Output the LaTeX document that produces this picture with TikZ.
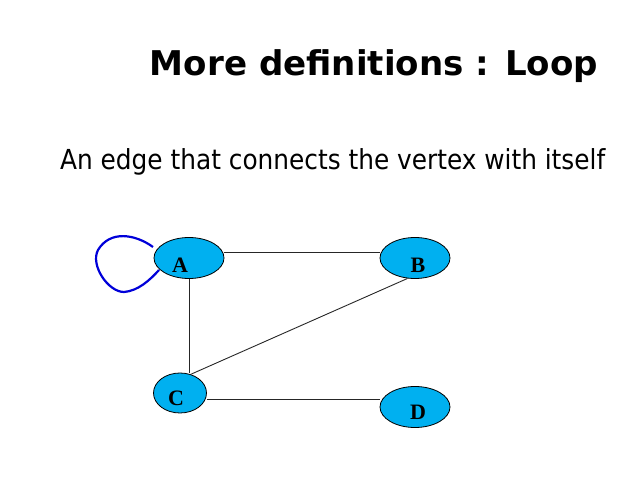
\documentclass[tikz,border=0pt]{standalone}
\usepackage{fontspec}
\setmainfont{Liberation Serif}
\newfontfamily\titlefont{DejaVu Sans}
\newfontfamily\subfont{DejaVu Sans Condensed}
\usepackage{graphicx}
\tikzset{
  vtx/.style={draw=black, fill=cyan!70!blue!80, ellipse, minimum width=70pt, minimum height=41pt, inner sep=0pt, line width=0.8pt},
  lbl/.style={font=\bfseries\fontsize{22}{22}\selectfont},
  edge/.style={line width=0.9pt, black!85}
}
\usetikzlibrary{shapes.geometric}
\definecolor{nodeblue}{RGB}{0,176,240}
\begin{document}
\begin{tikzpicture}[x=1pt,y=-1pt]
\useasboundingbox (0,0) rectangle (638,478);
\node[anchor=base] (title) at (374,76) {\resizebox{448pt}{!}{\titlefont\bfseries More definitions : Loop}};
\node[anchor=base west, inner sep=0pt] (sub) at (60,170) {\resizebox{545pt}{!}{\subfont An edge that connects the vertex with itself}};
\node[vtx, fill=nodeblue] (A) at (189,258) {};
\node[vtx, fill=nodeblue] (B) at (415,258) {};
\node[vtx, fill=nodeblue, minimum width=53pt, minimum height=40pt] (C) at (180,393) {};
\node[vtx, fill=nodeblue] (D) at (415,407) {};
\node[lbl] (la) at (180,265) {A};
\node[lbl] (lb) at (418,265) {B};
\node[lbl] (lc) at (176,398) {C};
\node[lbl] (ld) at (418,412) {D};
\draw[edge] (A.north east |- 0,252) ++(-6,0) coordinate (a1);
\coordinate (ab1) at (224,252);
\coordinate (ab2) at (380,252);
\draw[edge] (ab1) -- (ab2);
\draw[edge] (A.south) -- (A.south |- C.north);
\draw[edge] (C.60) -- (B.250);
\draw[edge] (C.east |- 0,399) coordinate (cd1) -- (D.west |- 0,399);
\coordinate (l1) at (153,247);
\coordinate (l2) at (159,270);
\draw[blue!85!black, line width=2.2pt] (l1) .. controls (135,234) and (110,230) .. (98,250)
  .. controls (90,265) and (108,292) .. (124,292) .. controls (138,291) and (150,280) .. (l2);
\end{tikzpicture}
\end{document}
